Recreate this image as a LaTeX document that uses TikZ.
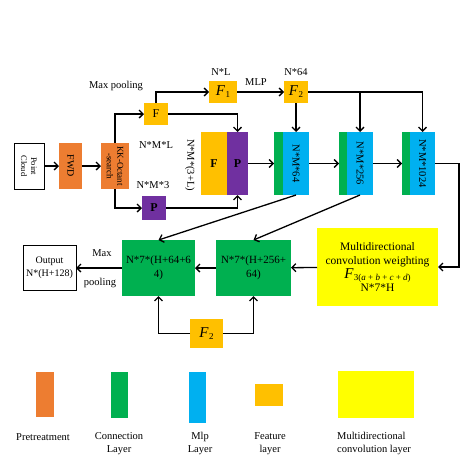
\documentclass[tikz,border=0pt]{standalone}
\usepackage{fontspec}
\setmainfont{Liberation Serif}
\usetikzlibrary{arrows.meta}
\definecolor{pre}{HTML}{ED7D31}
\definecolor{conn}{HTML}{00B050}
\definecolor{mlp}{HTML}{00B0F0}
\definecolor{feat}{HTML}{FFC000}
\definecolor{purp}{HTML}{7030A0}
\definecolor{yel}{HTML}{FFFF00}
\newcommand{\Fsub}[1]{{\fontsize{15}{15}\selectfont\itshape F}\kern0.5pt{\fontsize{9}{9}\selectfont\raisebox{-2pt}{#1}}}
\begin{document}
\begin{tikzpicture}[x=1pt,y=-1pt,font=\fontsize{10.5}{13}\selectfont,
  blk/.style={inner sep=0pt,outer sep=0pt},
  arr/.style={line width=1.3pt,-{Straight Barb[length=4pt,width=8pt]}},
  lab/.style={inner sep=0pt}]
\fill[white] (0,0) rectangle (474,474);
\useasboundingbox (0,0) rectangle (474,474);
% pretreatment
\node[blk,draw,line width=0.8pt,fill=white,rotate=-90,minimum width=46pt,minimum height=30pt,align=center,font=\fontsize{8.5}{10}\selectfont] (pc) at (29,166) {Point\\Cloud};
\node[blk,fill=pre,rotate=-90,minimum width=46pt,minimum height=23pt,font=\fontsize{10}{12}\selectfont] (fwd) at (70.5,166) {FWD};
\node[blk,fill=pre,rotate=-90,minimum width=46pt,minimum height=28pt,align=center,font=\fontsize{9}{10.5}\selectfont] (kk) at (115,166) {KK-Octant\\-search};
% features
\node[blk,fill=feat,minimum width=24pt,minimum height=22pt,font=\fontsize{12}{12}\selectfont] (f) at (156,114) {F};
\node[blk,fill=purp,minimum width=24pt,minimum height=24pt,font=\fontsize{12}{12}\selectfont] (p) at (154,208) {\textbf{P}};
\node[blk,fill=feat,minimum width=28pt,minimum height=22pt] (f1) at (223,92) {\Fsub{1}};
\node[blk,fill=feat,minimum width=24pt,minimum height=22pt] (f2) at (296,92) {\Fsub{2}};
\node[blk,fill=feat,minimum width=26pt,minimum height=63pt,font=\fontsize{12}{12}\selectfont] (fpf) at (214,163.5) {\textbf{F}};
\node[blk,fill=purp,minimum width=21pt,minimum height=63pt,font=\fontsize{12}{12}\selectfont] (pp) at (237.5,163.5) {\textbf{P}};
% mlp blocks
\node[blk,fill=conn,minimum width=9pt,minimum height=63pt] (g1) at (278.5,163.5) {};
\node[blk,fill=mlp,rotate=-90,minimum width=63pt,minimum height=26pt] (m1) at (296,163.5) {N*M*64};
\node[blk,fill=conn,minimum width=8pt,minimum height=63pt] (g2) at (343,163.5) {};
\node[blk,fill=mlp,rotate=-90,minimum width=63pt,minimum height=26pt] (m2) at (360,163.5) {N*M*256};
\node[blk,fill=conn,minimum width=8pt,minimum height=63pt] (g3) at (406,163.5) {};
\node[blk,fill=mlp,rotate=-90,minimum width=63pt,minimum height=25pt] (m3) at (422.5,163.5) {N*M*1024};
% lower row
\node[blk,fill=yel,minimum width=121pt,minimum height=78pt,align=center,font=\fontsize{11.5}{14.5}\selectfont] (yel) at (377.5,267) {Multidirectional\\convolution weighting\\[-1pt]\Fsub{3(\textit{a} + \textit{b} + \textit{c} + \textit{d})}\\[-1pt]N*7*H};
\node[blk,fill=conn,minimum width=75pt,minimum height=56pt,align=center,font=\fontsize{11}{14}\selectfont] (gb2) at (253.5,268) {N*7*(H+256+\\64)};
\node[blk,fill=conn,minimum width=73pt,minimum height=56pt,align=center,font=\fontsize{11}{14}\selectfont] (gb1) at (158.5,268) {N*7*(H+64+6\\4)};
\node[blk,draw,line width=0.8pt,fill=white,minimum width=53pt,minimum height=45pt,align=center,font=\fontsize{10}{13}\selectfont] (out) at (49.5,268) {Output\\N*(H+128)};
\node[blk,fill=feat,minimum width=33pt,minimum height=29pt] (f2b) at (206.5,333.5) {\Fsub{2}};
% labels
\node[lab] (lmp) at (116,86) {Max pooling};
\node[lab] (lnl) at (221,72) {N*L};
\node[lab] (ln64) at (296,72) {N*64};
\node[lab] (lmlp) at (256,82) {MLP};
\node[lab] (lnml) at (156,145) {N*M*L};
\node[lab] (lnm3) at (153,185) {N*M*3};
\node[lab,rotate=-90] (lnm3l) at (190,165) {N*M*(3+L)};
\node[lab] (lmax) at (102,253) {Max};
\node[lab] (lpool) at (100,283) {pooling};
% connectors
\draw[arr] (pc) -- (fwd);
\draw[arr] (fwd) -- (kk);
\draw[arr] (kk) |- (f);
\draw[arr] (kk) |- (p);
\draw[arr] (f) |- (f1);
\draw[arr] (f) -| (pp);
\draw[arr] (p) -| (pp);
\draw[arr] (f1) -- (f2);
\draw[arr] (f2) -- (m1);
\draw[arr] (f2) -| (m2);
\draw[arr] (f2) -| (m3);
\draw[arr] (pp) -- (g1);
\draw[arr] (m1) -- (g2);
\draw[arr] (m2) -- (g3);
\coordinate (c1) at (459,163.5);
\draw[arr] (m3) -- (c1) |- (yel);
\draw[arr] (yel) -- (gb2);
\draw[arr] (gb2) -- (gb1);
\draw[arr] (gb1) -- (out);
\draw[arr] (m1 |- g1.south) -- (gb1.north);
\draw[arr] (m2 |- g2.south) -- (gb2.north);
\draw[arr] (f2b) -| (gb1);
\draw[arr] (f2b) -| (gb2);
% legend
\node[blk,fill=pre,minimum width=18pt,minimum height=45pt] (lgp) at (45,394.5) {};
\node[blk,fill=conn,minimum width=17pt,minimum height=46pt] (lgc) at (119.5,395) {};
\node[blk,fill=mlp,minimum width=17pt,minimum height=51pt] (lgm) at (197.5,397.5) {};
\node[blk,fill=feat,minimum width=28pt,minimum height=22pt] (lgf) at (269,395) {};
\node[blk,fill=yel,minimum width=76pt,minimum height=47pt] (lgy) at (376,394.5) {};
\node[lab] (tp) at (43,437) {Pretreatment};
\node[lab,align=center] (tc) at (119,443.5) {Connection\\Layer};
\node[lab,align=center] (tm) at (200,443.5) {Mlp\\Layer};
\node[lab,align=center] (tf) at (270,443.5) {Feature\\layer};
\node[lab,align=left,anchor=west] (ty) at (337,443.5) {Multidirectional\\convolution layer};
\end{tikzpicture}
\end{document}
